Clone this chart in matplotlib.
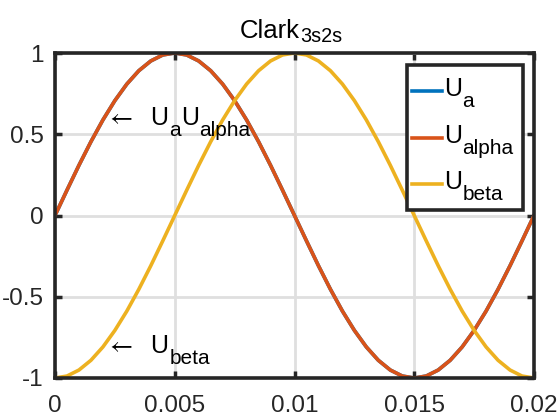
import matplotlib
matplotlib.use("Agg")
import matplotlib.pyplot as plt
from matplotlib.lines import Line2D
from matplotlib.patches import Rectangle

plt.rcParams['font.family'] = ['Liberation Sans', 'DejaVu Sans']
plt.rcParams['axes.unicode_minus'] = False
plt.rcParams['mathtext.fontset'] = 'stixsans'

# time samples (s), one 50 Hz period
t = [i * 0.0005 for i in range(41)]

# values
u_a = [0.000, 0.156, 0.309, 0.454, 0.588, 0.707, 0.809, 0.891, 0.951, 0.988,
       1.000, 0.988, 0.951, 0.891, 0.809, 0.707, 0.588, 0.454, 0.309, 0.156,
       0.000, -0.156, -0.309, -0.454, -0.588, -0.707, -0.809, -0.891, -0.951, -0.988,
       -1.000, -0.988, -0.951, -0.891, -0.809, -0.707, -0.588, -0.454, -0.309, -0.156,
       0.000]
u_alpha = list(u_a)
u_beta = [-1.000, -0.988, -0.951, -0.891, -0.809, -0.707, -0.588, -0.454, -0.309, -0.156,
          0.000, 0.156, 0.309, 0.454, 0.588, 0.707, 0.809, 0.891, 0.951, 0.988,
          1.000, 0.988, 0.951, 0.891, 0.809, 0.707, 0.588, 0.454, 0.309, 0.156,
          0.000, -0.156, -0.309, -0.454, -0.588, -0.707, -0.809, -0.891, -0.951, -0.988,
          -1.000]

series_names = [('U', 'a'), ('U', 'alpha'), ('U', 'beta')]
series_colors = ['#0072BD', '#D95319', '#EDB120']

xticks = [0, 0.005, 0.01, 0.015, 0.02]
xticklabels = ['0', '0.005', '0.01', '0.015', '0.02']
yticks = [-1, -0.5, 0, 0.5, 1]
yticklabels = ['-1', '-0.5', '0', '0.5', '1']

W, H = 560, 420
fig = plt.figure(figsize=(W / 100, H / 100), dpi=100)
ax = fig.add_axes([55 / W, 1 - 378 / H, 479 / W, 325 / H])


def fx(px):
    return px / W


def fy(py):
    return 1 - py / H


def sub_text(x, y, parts, transform, size, subsize, drop, **kw):
    # MATLAB style text with lowered subscripts, built as a chain of texts
    main = ax.text(x, y, parts[0][0], transform=transform, fontsize=size,
                   va='baseline', ha='left', clip_on=False, **kw)
    prev = main
    for i, (m, s) in enumerate(parts):
        if i > 0:
            prev = ax.annotate(m, xy=(1, 0), xycoords=(prev, main), fontsize=size,
                               va='bottom', ha='left', annotation_clip=False, **kw)
        prev = ax.annotate(s, xy=(1, 0), xycoords=prev, xytext=(0.3, -drop),
                           textcoords='offset points', fontsize=subsize,
                           va='baseline', ha='left', annotation_clip=False, **kw)


ax.plot(t, u_a, color=series_colors[0], lw=2.6)
ax.plot(t, u_alpha, color=series_colors[1], lw=2.6)
ax.plot(t, u_beta, color=series_colors[2], lw=2.6)

ax.set_xlim(0, 0.02)
ax.set_ylim(-1, 1)
ax.set_xticks(xticks)
ax.set_xticklabels(xticklabels)
ax.set_yticks(yticks)
ax.set_yticklabels(yticklabels)
ax.tick_params(direction='in', length=5, width=2.5, labelsize=17.5, color='#262626',
               labelcolor='#262626', top=True, right=True)
ax.tick_params(axis='x', pad=12)
ax.tick_params(axis='y', pad=8)
for sp in ax.spines.values():
    sp.set_linewidth(2.6)
    sp.set_color('#262626')
ax.grid(True, color='#dfdfdf', lw=2)
ax.set_axisbelow(True)

# title
sub_text(fx(240), fy(38), [('Clark', '3s2s')], fig.transFigure, 18.5, 14.3, -1.0)

# annotations
arrow = r'$\leftarrow$  U'
sub_text(0.00215, 0.557, [(arrow, 'a'), ('U', 'alpha')], ax.transData, 18, 15, 4.6)
sub_text(0.00215, -0.846, [(arrow, 'beta')], ax.transData, 18, 15, 4.6)

# legend, drawn by hand to get the low subscripts
ax.add_patch(Rectangle((fx(407), fy(210)), fx(523) - fx(407), fy(65) - fy(210),
                       transform=fig.transFigure, facecolor='white', edgecolor='#262626',
                       lw=2.6, zorder=5, clip_on=False))
row_y = [91, 138, 184]
for (m, s), c, ry in zip(series_names, series_colors, row_y):
    ax.add_line(Line2D([fx(412), fx(442)], [fy(ry), fy(ry)], transform=fig.transFigure,
                       color=c, lw=2.6, zorder=6, clip_on=False))
    sub_text(fx(444), fy(ry + 5), [(m, s)], fig.transFigure, 18, 15, 4.6, zorder=7)

fig.savefig('out.png', dpi=100)
